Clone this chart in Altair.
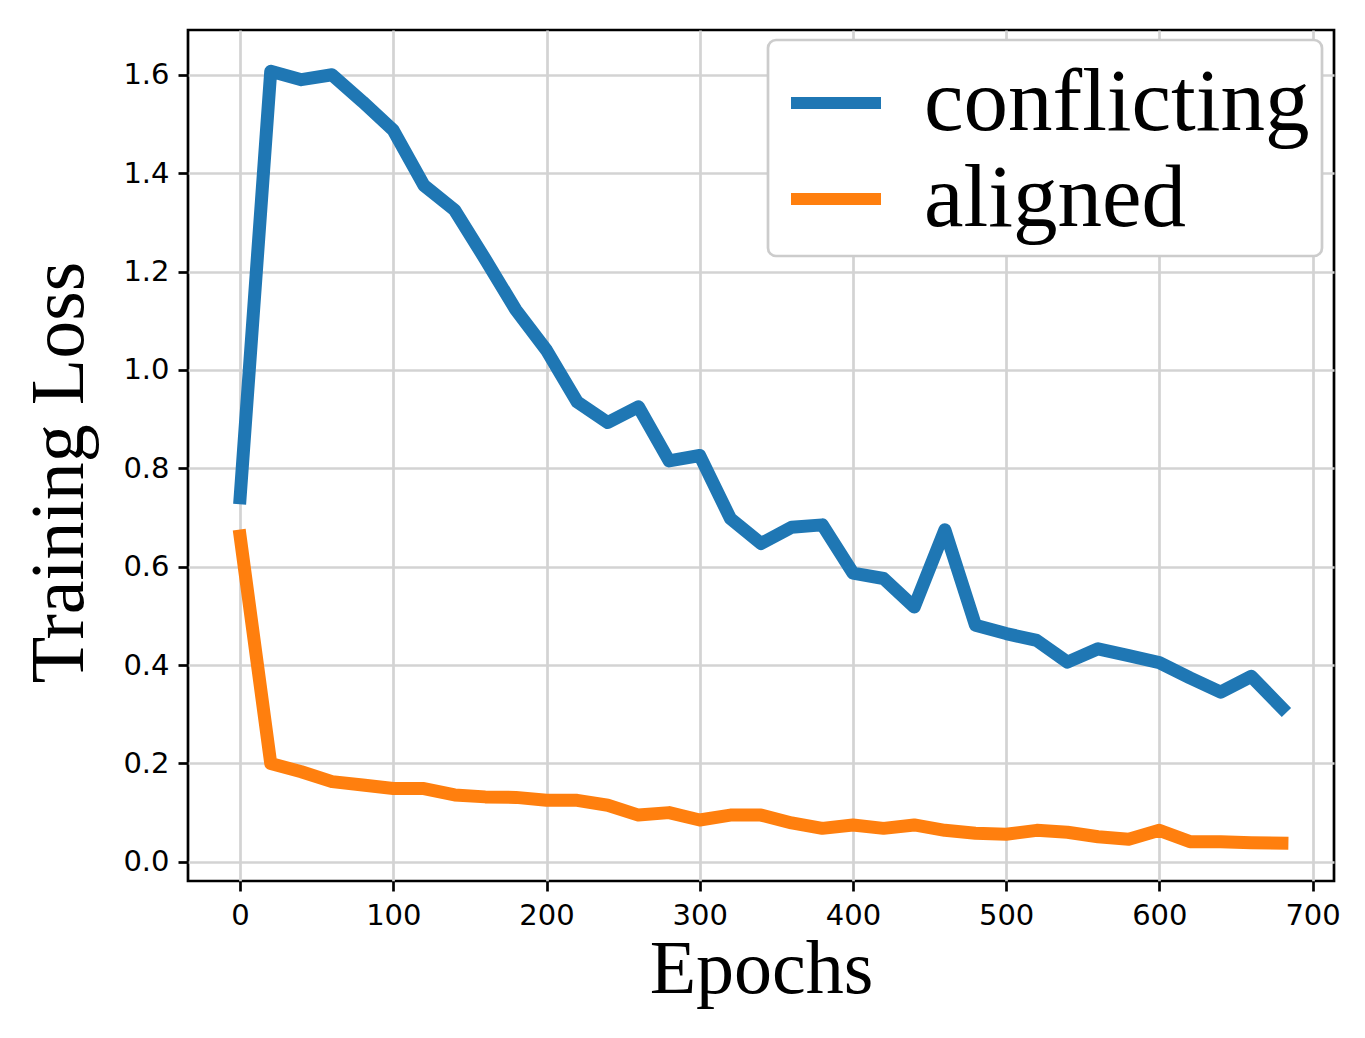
import altair as alt
import pandas as pd

epochs = list(range(0, 700, 20))
conflicting = [0.74, 1.607, 1.59, 1.60, 1.545, 1.487, 1.375, 1.325, 1.225, 1.122,
               1.04, 0.935, 0.893, 0.925, 0.815, 0.826, 0.698, 0.647, 0.68, 0.685,
               0.587, 0.576, 0.518, 0.675, 0.481, 0.464, 0.45, 0.406, 0.433, 0.419,
               0.405, 0.374, 0.345, 0.377, 0.313]
aligned = [0.662, 0.20, 0.183, 0.163, 0.156, 0.149, 0.149, 0.136, 0.132, 0.131,
           0.125, 0.125, 0.115, 0.095, 0.100, 0.085, 0.095, 0.095, 0.079, 0.068,
           0.075, 0.068, 0.075, 0.064, 0.058, 0.056, 0.064, 0.060, 0.051, 0.046,
           0.064, 0.041, 0.041, 0.039, 0.038]
series_names = ["conflicting", "aligned"]
series_colors = ["#1f77b4", "#ff7f0e"]
x_ticks = [0, 100, 200, 300, 400, 500, 600, 700]
y_ticks = [0.0, 0.2, 0.4, 0.6, 0.8, 1.0, 1.2, 1.4, 1.6]

rows = []
for name, vals in zip(series_names, [conflicting, aligned]):
    for e, v in zip(epochs, vals):
        rows.append({"series": name, "epoch": e, "loss": v})
df = pd.DataFrame(rows)

serif = "Liberation Serif"
sans = "DejaVu Sans"

chart = alt.Chart(df).mark_line(
    strokeWidth=13, strokeCap="square", strokeJoin="round"
).encode(
    x=alt.X("epoch:Q",
            scale=alt.Scale(domain=[-34, 714], nice=False, zero=False),
            axis=alt.Axis(values=x_ticks, title="Epochs", format="d",
                          labelPadding=10, titlePadding=2)),
    y=alt.Y("loss:Q",
            scale=alt.Scale(domain=[-0.039, 1.691], nice=False, zero=False),
            axis=alt.Axis(values=y_ticks, title="Training Loss", format=".1f",
                          labelPadding=9, titlePadding=24, titleY=442)),
    color=alt.Color("series:N",
                    scale=alt.Scale(domain=series_names, range=series_colors),
                    title=None,
                    legend=alt.Legend(orient="none", legendX=580, legendY=10,
                                      symbolType="stroke", symbolSize=8100,
                                      symbolStrokeWidth=12, symbolOffset=5,
                                      labelFontSize=89,
                                      labelFont=serif, labelColor="black",
                                      labelOffset=37, rowPadding=-3, padding=12,
                                      strokeColor="#cccccc", fillColor="white",
                                      cornerRadius=8, labelLimit=600)),
    order="epoch:Q",
).properties(
    width=1146, height=851,
    autosize=alt.AutoSizeParams(type="none"),
    padding={"left": 180, "top": 22, "right": 20, "bottom": 150},
).configure_view(
    stroke="black", strokeWidth=2.7
).configure_axis(
    domain=False,
    grid=True, gridColor="#d3d3d3", gridWidth=2.7,
    tickColor="black", tickWidth=2.7, tickSize=10,
    labelFont=sans, labelFontSize=29, labelColor="black",
    titleFont=serif, titleFontSize=76, titleFontWeight="normal", titleColor="black",
).configure_legend(
    strokeWidth=2.7
)

chart.save("out.html", embed_options={"renderer": "svg", "actions": False})
